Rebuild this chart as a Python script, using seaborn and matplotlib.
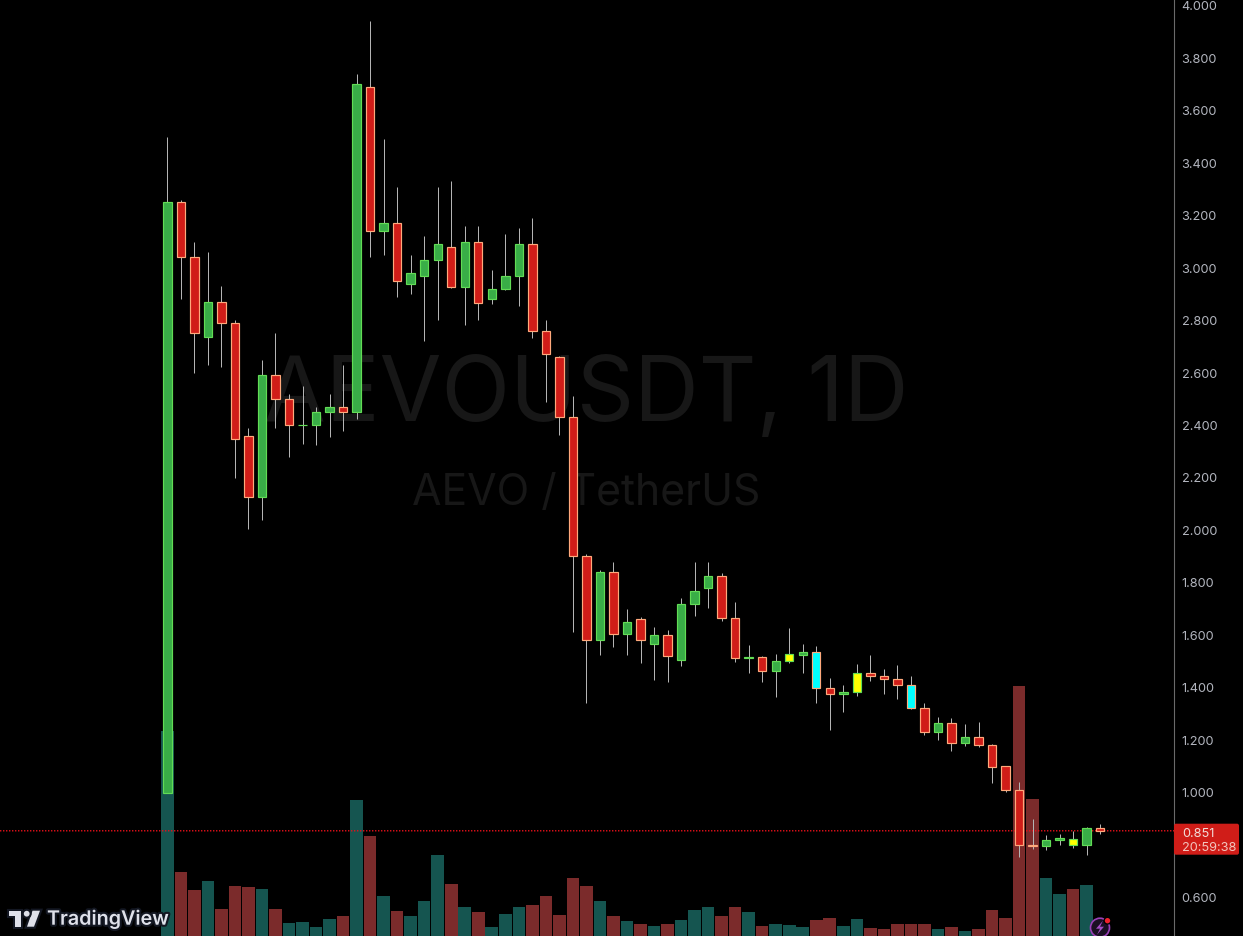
import numpy as np
import pandas as pd
import matplotlib
matplotlib.use("Agg")
import matplotlib.pyplot as plt
import matplotlib.patheffects as pe
from matplotlib.patches import Circle, FancyBboxPatch, Polygon
import seaborn as sns

# daily candles
opens = [0.996, 3.249, 3.04, 2.735, 2.868, 2.788, 2.357, 2.125, 2.59, 2.497,
         2.398, 2.397, 2.446, 2.467, 2.446, 3.688, 3.136, 3.167, 2.935, 2.965,
         3.026, 3.077, 2.926, 3.096, 2.877, 2.915, 2.965, 3.089, 2.756, 2.658,
         2.428, 1.898, 1.577, 1.838, 1.603, 1.658, 1.565, 1.597, 1.504, 1.714,
         1.775, 1.822, 1.662, 1.508, 1.514, 1.462, 1.497, 1.523, 1.533, 1.395,
         1.371, 1.379, 1.453, 1.441, 1.43, 1.407, 1.319, 1.226, 1.262, 1.184,
         1.209, 1.178, 1.098, 1.006, 0.798, 0.792, 0.814, 0.795, 0.795, 0.862]
highs = [3.497, 3.257, 3.097, 3.059, 2.929, 2.80, 2.388, 2.647, 2.75, 2.517,
         2.548, 2.468, 2.517, 2.628, 3.737, 3.94, 3.49, 3.307, 3.047, 3.12,
         3.307, 3.33, 3.158, 3.158, 2.99, 3.127, 3.15, 3.188, 2.80, 2.66,
         2.51, 1.907, 1.846, 1.876, 1.696, 1.667, 1.628, 1.618, 1.74, 1.876,
         1.876, 1.835, 1.724, 1.559, 1.518, 1.526, 1.625, 1.563, 1.557, 1.433,
         1.408, 1.488, 1.522, 1.469, 1.484, 1.441, 1.339, 1.283, 1.282, 1.259,
         1.267, 1.183, 1.098, 1.038, 0.897, 0.836, 0.84, 0.851, 0.867, 0.878]
lows = [0.996, 2.88, 2.597, 2.628, 2.618, 2.197, 2.0, 2.037, 2.388, 2.277,
        2.327, 2.32, 2.351, 2.377, 2.419, 3.04, 3.047, 2.887, 2.899, 2.72,
        2.80, 2.919, 2.778, 2.80, 2.858, 2.911, 2.85, 2.728, 2.487, 2.358,
        1.607, 1.34, 1.52, 1.55, 1.52, 1.489, 1.427, 1.42, 1.478, 1.668,
        1.699, 1.649, 1.493, 1.451, 1.417, 1.36, 1.489, 1.451, 1.337, 1.237,
        1.302, 1.366, 1.423, 1.374, 1.352, 1.314, 1.215, 1.199, 1.157, 1.176,
        1.169, 1.035, 0.997, 0.75, 0.78, 0.776, 0.795, 0.784, 0.757, 0.837]
closes = [3.249, 3.04, 2.75, 2.868, 2.785, 2.346, 2.125, 2.59, 2.496, 2.397,
          2.399, 2.449, 2.467, 2.446, 3.699, 3.136, 3.167, 2.946, 2.977, 3.027,
          3.088, 2.926, 3.096, 2.865, 2.916, 2.966, 3.089, 2.755, 2.667, 2.428,
          1.897, 1.577, 1.838, 1.603, 1.647, 1.577, 1.597, 1.516, 1.716, 1.765,
          1.822, 1.664, 1.508, 1.514, 1.462, 1.498, 1.525, 1.534, 1.394, 1.371,
          1.38, 1.453, 1.44, 1.428, 1.405, 1.321, 1.226, 1.262, 1.184, 1.209,
          1.177, 1.096, 1.005, 0.795, 0.794, 0.816, 0.823, 0.82, 0.862, 0.851]
# volume in arbitrary units, the last (live) day shows no bar
volumes = [206, 65, 47, 56, 28, 51, 50, 48, 28, 14,
           15, 10, 18, 21, 137, 101, 41, 26, 21, 36,
           82, 53, 30, 25, 10, 23, 30, 32, 41, 22,
           59, 51, 36, 21, 16, 13, 11, 13, 17, 27,
           30, 21, 30, 25, 11, 13, 12, 10, 17, 19,
           11, 18, 9, 8, 13, 13, 13, 8, 10, 6,
           8, 27, 19, 251, 138, 59, 43, 48, 52, 0]
volume_dirs = ["up", "down", "down", "up", "down", "down", "down", "up", "down", "up",
               "up", "up", "up", "down", "up", "down", "up", "down", "up", "up",
               "up", "down", "up", "down", "up", "up", "up", "down", "down", "down",
               "down", "down", "up", "down", "up", "down", "up", "down", "up", "up",
               "up", "down", "down", "up", "down", "up", "up", "up", "down", "down",
               "up", "up", "down", "down", "down", "down", "down", "up", "down", "up",
               "down", "down", "down", "down", "down", "up", "up", "down", "up", "down"]
yellow_days = [46, 51, 67]
cyan_days = [48, 55]
price_ticks = [0.6, 1.0, 1.2, 1.4, 1.6, 1.8, 2.0, 2.2, 2.4, 2.6, 2.8, 3.0, 3.2, 3.4, 3.6, 3.8, 4.0]
last_price = 0.851
countdown = "20:59:38"

W, H = 1243, 937
AXIS_X = 1174
STEP = 13.52
X0 = 167.3

sns.set_theme(style="dark", rc={"axes.facecolor": "black", "figure.facecolor": "black"})
plt.rcParams["font.family"] = ["Inter", "DejaVu Sans"]

fig = plt.figure(figsize=(W / 100, H / 100), dpi=100)
ax = fig.add_axes([0, 0, AXIS_X / W, 1])
vol_ax = ax.twinx()
ax.set_zorder(2)
ax.patch.set_visible(False)
vol_ax.set_zorder(1)

days = np.arange(len(opens))
df = pd.DataFrame({"day": days, "open": opens, "high": highs, "low": lows, "close": closes,
                   "volume": volumes, "dir": volume_dirs})

# volume histogram
sns.barplot(data=df, x="day", y="volume", hue="dir", native_scale=True, dodge=False,
            palette={"up": "#155550", "down": "#7b2b2b"}, width=0.93, saturation=1,
            linewidth=0, legend=False, ax=vol_ax)
vol_ax.set_ylim(0.7, H + 0.7)
vol_ax.set_axis_off()

# wicks and bodies
up = df["close"] >= df["open"]
ax.vlines(df["day"], df["low"], df["high"], color="#b4b4b4", lw=0.72, zorder=3)
body_colors = np.where(up, "#39ad47", "#d01d18").astype(object)
edge_colors = np.where(up, "#62dc55", "#ffa97c").astype(object)
body_colors[yellow_days] = "#ffff00"
body_colors[cyan_days] = "#00ffff"
ax.bar(df["day"], (df["close"] - df["open"]).abs(), bottom=df[["open", "close"]].min(axis=1),
       width=8.4 / STEP, color=list(body_colors), edgecolor=list(edge_colors), linewidth=0.85, zorder=4)

# last price line
price_line = ax.axhline(last_price, color="#e8101a", lw=1.0, ls=(0, (1.0, 1.16)), zorder=2)
price_line.set_snap(False)

# y = 792.7 px at price 1, 262.3 px per unit of price
ax.set_ylim(1 - (H - 792.7) / 262.3, 1 + 792.7 / 262.3)
ax.set_xlim(-X0 / STEP, (AXIS_X - X0) / STEP)
ax.set_yticks(price_ticks)
ax.set_yticklabels([f"{t:.3f}" for t in price_ticks])
ax.yaxis.tick_right()
ax.tick_params(axis="y", length=0, pad=5.5, labelsize=9.2, labelcolor="#b2b5be")
ax.tick_params(axis="x", bottom=False, labelbottom=False)
ax.set_xlabel("")
ax.set_ylabel("")
ax.grid(False)
for side in ["top", "left", "bottom"]:
    ax.spines[side].set_visible(False)
ax.spines["right"].set_color("#6a6a6a")
ax.spines["right"].set_linewidth(0.8)

# everything else is placed in screen pixels
over = fig.add_axes([0, 0, 1, 1], zorder=5)
over.set_xlim(0, W)
over.set_ylim(H - 0.7, -0.7)
over.set_axis_off()
over.patch.set_visible(False)

back = fig.add_axes([0, 0, 1, 1], zorder=0)
back.set_xlim(0, W)
back.set_ylim(H - 0.7, -0.7)
back.set_axis_off()
back.text(586, 420, "AEVOUSDT, 1D", color="#171717", fontsize=64.5, ha="center", va="baseline", family="Inter")
back.text(586, 504, "AEVO / TetherUS", color="#171717", fontsize=30.8, ha="center", va="baseline", family="Inter")

# price tag
over.add_patch(FancyBboxPatch((1174, 824), 65, 31, boxstyle="round,pad=0,rounding_size=2", fc="#d01d18", ec="none"))
over.text(1182, 833, f"{last_price:.3f}", color="#f2dcd8", fontsize=9.2, va="center", ha="left")
over.text(1182, 847, countdown, color="#f2c4bd", fontsize=9.2, va="center", ha="left")

# TradingView mark
logo = "#dfe1ea"
stroke = [pe.withStroke(linewidth=3, foreground="#131722")]
for pts in ([(9, 911), (20.7, 911), (20.7, 927), (15, 927), (15, 916), (9, 916)],
            [(32.5, 911), (40, 911), (34, 927), (27, 927)]):
    over.add_patch(Polygon(pts, fc=logo, ec="none", path_effects=stroke))
over.add_patch(Circle((26.7, 914), 2.9, fc=logo, ec="none", path_effects=stroke))
over.text(47, 925, "TradingView", color=logo, fontsize=14.2, fontweight="semibold", va="baseline", ha="left",
          family="Inter", path_effects=stroke)

# small alert badge
over.add_patch(Circle((1100, 928), 9.5, fc="#1b0f24", ec="#9b40b8", lw=1.2))
over.add_patch(Polygon([(1103, 921), (1096, 929), (1100, 929), (1097, 935), (1104, 927), (1100, 927)],
                       fc="#a44cc4", ec="none"))
over.add_patch(Circle((1107.5, 921), 4, fc="black", ec="none"))
over.add_patch(Circle((1107.5, 921), 2.7, fc="#f0212c", ec="none"))

fig.savefig("out.png", dpi=100, facecolor="black")
